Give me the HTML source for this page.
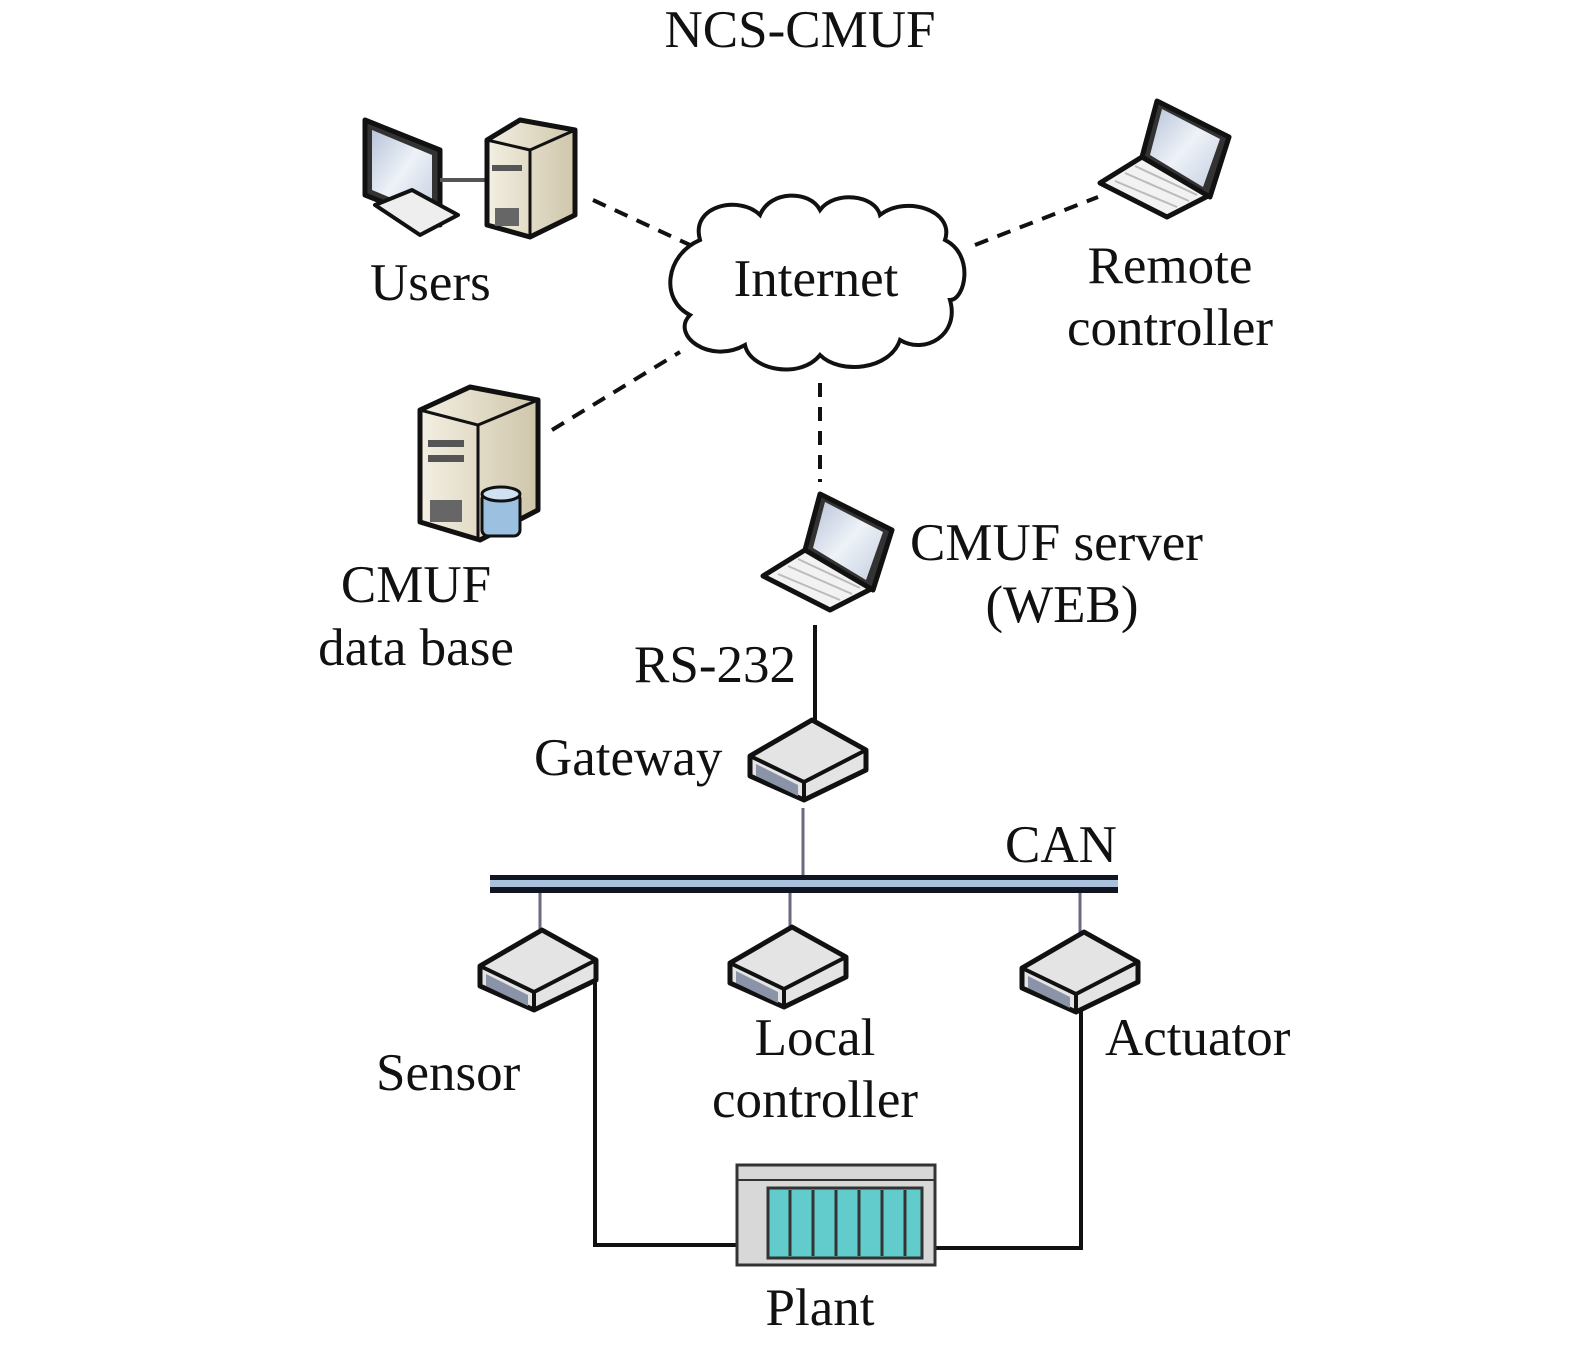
<!DOCTYPE html>
<html><head><style>
html,body{margin:0;padding:0;background:#fff;}
svg{display:block;}
text{font-family:"Liberation Serif",serif;font-size:53px;fill:#111;}
</style></head><body>
<svg width="1575" height="1348" viewBox="0 0 1575 1348" xmlns="http://www.w3.org/2000/svg">
<defs>
<linearGradient id="scr" x1="0" y1="0" x2="1" y2="1"><stop offset="0" stop-color="#b8c4d8"/><stop offset="0.5" stop-color="#eef2f8"/><stop offset="1" stop-color="#c4cfe0"/></linearGradient>
<linearGradient id="tan" x1="0" y1="0" x2="1" y2="0"><stop offset="0" stop-color="#f3efe2"/><stop offset="1" stop-color="#cfc6aa"/></linearGradient>
<g id="laptop">
<polygon points="763,576 805,550 873,588 830,610" fill="#f2f2f2" stroke="#111" stroke-width="5" stroke-linejoin="round"/>
<polygon points="805,550 820,494 892,530 873,590" fill="#333" stroke="#111" stroke-width="5" stroke-linejoin="round"/>
<polygon points="813,548 825,502 883,532 866,580" fill="url(#scr)"/>
<g stroke="#bbb" stroke-width="2"><line x1="778" y1="574" x2="840" y2="600"/><line x1="788" y1="566" x2="852" y2="594"/><line x1="798" y1="559" x2="860" y2="588"/></g>
</g>
<g id="router">
<polygon points="-58,-2 4,-38 58,-8 58,12 -4,42 -58,18" fill="#e4e4e4" stroke="#111" stroke-width="5" stroke-linejoin="round"/>
<polyline points="-58,-2 -4,24 58,-8" fill="none" stroke="#111" stroke-width="4"/>
<polygon points="-52,6 -10,27 -10,38 -52,18" fill="#8a93a8"/>
<line x1="-4" y1="24" x2="-4" y2="42" stroke="#111" stroke-width="4"/>
</g>
</defs>

<text x="800" y="47" text-anchor="middle">NCS-CMUF</text>

<g stroke="#111" stroke-width="4" stroke-dasharray="14,10" fill="none">
<line x1="593" y1="200" x2="690" y2="245"/>
<line x1="552" y1="430" x2="680" y2="352"/>
<line x1="975" y1="245" x2="1098" y2="197"/>
<line x1="820" y1="383" x2="820" y2="482"/>
</g>

<path d="M700,240 C690,205 740,195 760,215 C770,190 810,190 820,210 C835,190 875,195 880,215 C905,195 955,210 945,240 C975,255 965,300 950,300 C960,335 925,355 900,340 C890,370 840,375 820,355 C800,380 750,370 745,345 C710,365 670,335 690,315 C660,300 665,255 700,240 Z" fill="#fff" stroke="#111" stroke-width="4"/>
<text x="816" y="296" text-anchor="middle">Internet</text>

<polygon points="365,120 440,150 440,225 365,195" fill="#333" stroke="#111" stroke-width="5" stroke-linejoin="round"/>
<polygon points="372,130 432,155 432,215 372,190" fill="url(#scr)"/>
<polygon points="375,205 412,190 458,215 420,235" fill="#eee" stroke="#111" stroke-width="4" stroke-linejoin="round"/>
<line x1="440" y1="180" x2="490" y2="180" stroke="#555" stroke-width="4"/>
<polygon points="487,140 520,120 575,130 575,215 530,237 487,225" fill="url(#tan)" stroke="#111" stroke-width="5" stroke-linejoin="round"/>
<polyline points="487,140 530,150 530,237" fill="none" stroke="#111" stroke-width="3"/>
<polyline points="530,150 575,130" fill="none" stroke="#111" stroke-width="3"/>
<rect x="492" y="165" width="30" height="6" fill="#555"/>
<rect x="495" y="208" width="24" height="18" fill="#666"/>

<polygon points="420,410 470,387 538,400 538,510 480,540 420,522" fill="url(#tan)" stroke="#111" stroke-width="5" stroke-linejoin="round"/>
<polyline points="420,410 478,425 478,540" fill="none" stroke="#111" stroke-width="3"/>
<polyline points="478,425 538,400" fill="none" stroke="#111" stroke-width="3"/>
<rect x="428" y="440" width="36" height="7" fill="#555"/>
<rect x="428" y="455" width="36" height="7" fill="#555"/>
<rect x="430" y="500" width="32" height="22" fill="#666"/>
<rect x="482" y="493" width="38" height="43" rx="6" fill="#9cc0e0" stroke="#111" stroke-width="3"/>
<ellipse cx="501" cy="494" rx="19" ry="7" fill="#cfe2f2" stroke="#111" stroke-width="3"/>

<use href="#laptop"/>
<use href="#laptop" transform="translate(337,-393)"/>

<g stroke="#111" stroke-width="4" fill="none">
<line x1="815" y1="625" x2="815" y2="720"/>
<polyline points="595,972 595,1245 738,1245"/>
<polyline points="1081,1008 1081,1248 935,1248"/>
</g>
<g stroke="#6a6a80" stroke-width="3">
<line x1="803" y1="808" x2="803" y2="876"/>
<line x1="540" y1="892" x2="540" y2="935"/>
<line x1="790" y1="892" x2="790" y2="932"/>
<line x1="1080" y1="892" x2="1080" y2="935"/>
</g>
<rect x="490" y="875" width="628" height="18" fill="#10151f"/>
<rect x="490" y="880" width="628" height="7" fill="#a9c1dc"/>

<use href="#router" transform="translate(808,758)"/>
<use href="#router" transform="translate(538,968)"/>
<use href="#router" transform="translate(788,965)"/>
<use href="#router" transform="translate(1080,970)"/>

<rect x="737" y="1165" width="198" height="100" fill="#d8d8d8" stroke="#333" stroke-width="3"/>
<line x1="737" y1="1180" x2="935" y2="1180" stroke="#333" stroke-width="2"/>
<rect x="768" y="1188" width="154" height="70" fill="#62cccc" stroke="#333" stroke-width="3"/>
<g stroke="#333" stroke-width="3"><line x1="790" y1="1190" x2="790" y2="1256"/><line x1="813" y1="1190" x2="813" y2="1256"/><line x1="836" y1="1190" x2="836" y2="1256"/><line x1="859" y1="1190" x2="859" y2="1256"/><line x1="882" y1="1190" x2="882" y2="1256"/><line x1="905" y1="1190" x2="905" y2="1256"/></g>

<text x="370" y="300">Users</text>
<text x="1170" y="283" text-anchor="middle">Remote</text>
<text x="1170" y="345" text-anchor="middle">controller</text>
<text x="416" y="602" text-anchor="middle">CMUF</text>
<text x="416" y="665" text-anchor="middle">data base</text>
<text x="910" y="560">CMUF server</text>
<text x="1062" y="622" text-anchor="middle">(WEB)</text>
<text x="634" y="682">RS-232</text>
<text x="534" y="775">Gateway</text>
<text x="1005" y="862">CAN</text>
<text x="376" y="1090">Sensor</text>
<text x="815" y="1055" text-anchor="middle">Local</text>
<text x="815" y="1117" text-anchor="middle">controller</text>
<text x="1105" y="1055">Actuator</text>
<text x="820" y="1325" text-anchor="middle">Plant</text>
</svg>
</body></html>
